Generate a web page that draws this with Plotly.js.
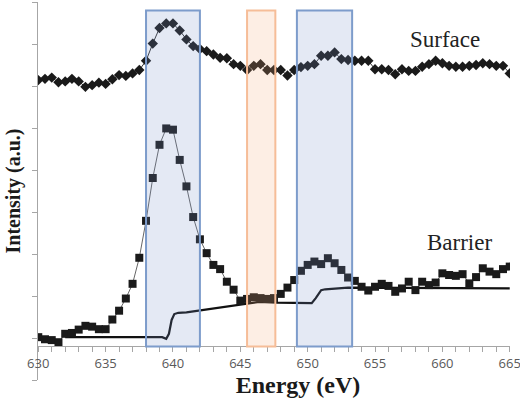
<!DOCTYPE html>
<html>
<head>
<meta charset="utf-8">
<script src="https://cdn.plot.ly/plotly-3.0.1.min.js"></script>
<style>html,body{margin:0;padding:0;background:#fff;}#chart{width:520px;height:403px;}</style>
</head>
<body>
<div id="chart"></div>
<script>
// Energy grid (eV), 0.5 eV steps
const energy = [];
for (let i = 0; i <= 70; i++) energy.push(630 + i * 0.5);

// Surface spectrum (diamonds)
const surface = [7.14,7.17,7.20,7.09,7.11,7.17,7.11,6.98,7.02,7.08,7.05,7.16,7.26,7.24,7.30,7.38,7.60,8.01,
  8.38,8.49,8.49,8.32,8.11,7.95,7.88,
  7.83,7.75,7.67,7.66,7.52,7.48,7.38,7.48,7.52,7.38,7.38,7.38,7.25,7.38,7.45,7.48,7.52,7.72,7.72,7.80,7.64,7.62,
  7.60,7.60,7.60,7.40,7.40,7.38,7.28,7.40,7.36,7.36,7.46,7.52,7.60,7.54,7.48,7.46,7.46,7.48,7.50,7.54,7.52,7.48,7.48,7.30];

// Barrier spectrum (squares)
const barrier = [1.02,0.97,0.95,0.90,1.10,1.12,1.20,1.29,1.27,1.21,1.21,1.44,1.65,1.94,2.29,2.91,3.79,4.81,
  5.60,5.99,5.96,5.24,4.61,3.88,3.35,
  3.02,2.74,2.64,2.34,2.15,1.89,1.93,1.97,1.95,1.93,1.95,2.05,2.20,2.38,2.60,2.74,2.82,2.76,2.90,2.78,2.62,2.44,
  2.36,2.22,2.13,2.22,2.29,2.24,2.10,2.18,2.34,2.14,2.34,2.26,2.32,2.54,2.50,2.48,2.52,2.30,2.45,2.66,2.58,2.52,2.64,2.70];

// Step background under barrier spectrum
const bgEnergy = [632, 639.2, 639.5, 639.7, 639.9, 640.1, 640.4, 641, 646.4, 647.7, 650.3, 650.6, 651.0, 651.3, 653, 665];
const bgValue  = [1.02, 1.02, 0.98, 1.10, 1.43, 1.57, 1.60, 1.61, 1.86, 1.84, 1.83, 1.95, 2.14, 2.16, 2.20, 2.18];

// Highlighted energy windows [start, end]
const blueWindows = [[638, 642], [649.2, 653.3]];
const orangeWindows = [[645.5, 647.6]];

const xTickVals = [630, 635, 640, 645, 650, 655, 660, 665];
const xTickText = ['630', '635', '640', '645', '650', '655', '660', '665'];

const yMin = 0, yMax = 9, xCross = 0.8, boxTop = 8.8;

const traces = [
  {x: bgEnergy, y: bgValue, mode: 'lines', line: {color: '#111', width: 2.2}, hoverinfo: 'skip'},
  {x: energy, y: barrier, mode: 'lines+markers', line: {color: '#666', width: 1},
   marker: {symbol: 'square', size: 8, color: '#1a1a1a'}},
  {x: energy, y: surface, mode: 'lines+markers', line: {color: '#333', width: 1},
   marker: {symbol: 'diamond', size: 8, color: '#1a1a1a'}}
];

const shapes = [];
blueWindows.forEach(w => shapes.push({type: 'rect', xref: 'x', yref: 'y', x0: w[0], x1: w[1], y0: xCross, y1: boxTop,
  line: {color: '#7d9ccb', width: 2}, fillcolor: 'rgba(120,145,200,0.2)', layer: 'above'}));
orangeWindows.forEach(w => shapes.push({type: 'rect', xref: 'x', yref: 'y', x0: w[0], x1: w[1], y0: xCross, y1: boxTop,
  line: {color: '#f6bd98', width: 2}, fillcolor: 'rgba(245,170,120,0.2)', layer: 'above'}));

const pad = '\u200B' + '\u00A0'.repeat(8);

const layout = {
  width: 520, height: 403,
  margin: {l: 38, r: 10, t: 2, b: 23},
  paper_bgcolor: '#fff', plot_bgcolor: '#fff',
  showlegend: false,
  xaxis: {
    range: [629.98, 665.02], anchor: 'free', position: (xCross - yMin) / (yMax - yMin),
    showline: true, linecolor: '#a6a6a6', linewidth: 1,
    ticks: 'outside', ticklen: 5, tickcolor: '#a6a6a6',
    tickvals: xTickVals, ticktext: xTickText, ticklabeloverflow: 'allow',
    minor: {dtick: 1, ticks: 'outside', ticklen: 5, tickcolor: '#a6a6a6'},
    tickfont: {family: 'Open Sans, sans-serif', size: 13, color: '#595959'},
    showgrid: false, zeroline: false, automargin: false,
    title: {text: pad + 'Energy (eV)', standoff: 0, font: {family: 'Liberation Serif, serif', size: 24, color: '#1a1a1a', weight: 'bold'}}
  },
  yaxis: {
    range: [yMin, yMax], dtick: 1, showticklabels: false,
    showline: true, linecolor: '#a6a6a6', linewidth: 1,
    ticks: 'outside', ticklen: 5, tickcolor: '#a6a6a6',
    showgrid: false, zeroline: false, automargin: false,
    title: {text: 'Intensity (a.u.)', standoff: 6, font: {family: 'Liberation Serif, serif', size: 20, color: '#1a1a1a', weight: 'bold'}}
  },
  shapes: shapes,
  annotations: [
    {text: 'Surface', x: 660.2, y: 8.1, xref: 'x', yref: 'y', showarrow: false,
     font: {family: 'Liberation Serif, serif', size: 23, color: '#222'}},
    {text: 'Barrier', x: 661.3, y: 3.27, xref: 'x', yref: 'y', showarrow: false,
     font: {family: 'Liberation Serif, serif', size: 23, color: '#222'}}
  ]
};

Plotly.newPlot('chart', traces, layout, {staticPlot: true, displayModeBar: false});
</script>
</body>
</html>
